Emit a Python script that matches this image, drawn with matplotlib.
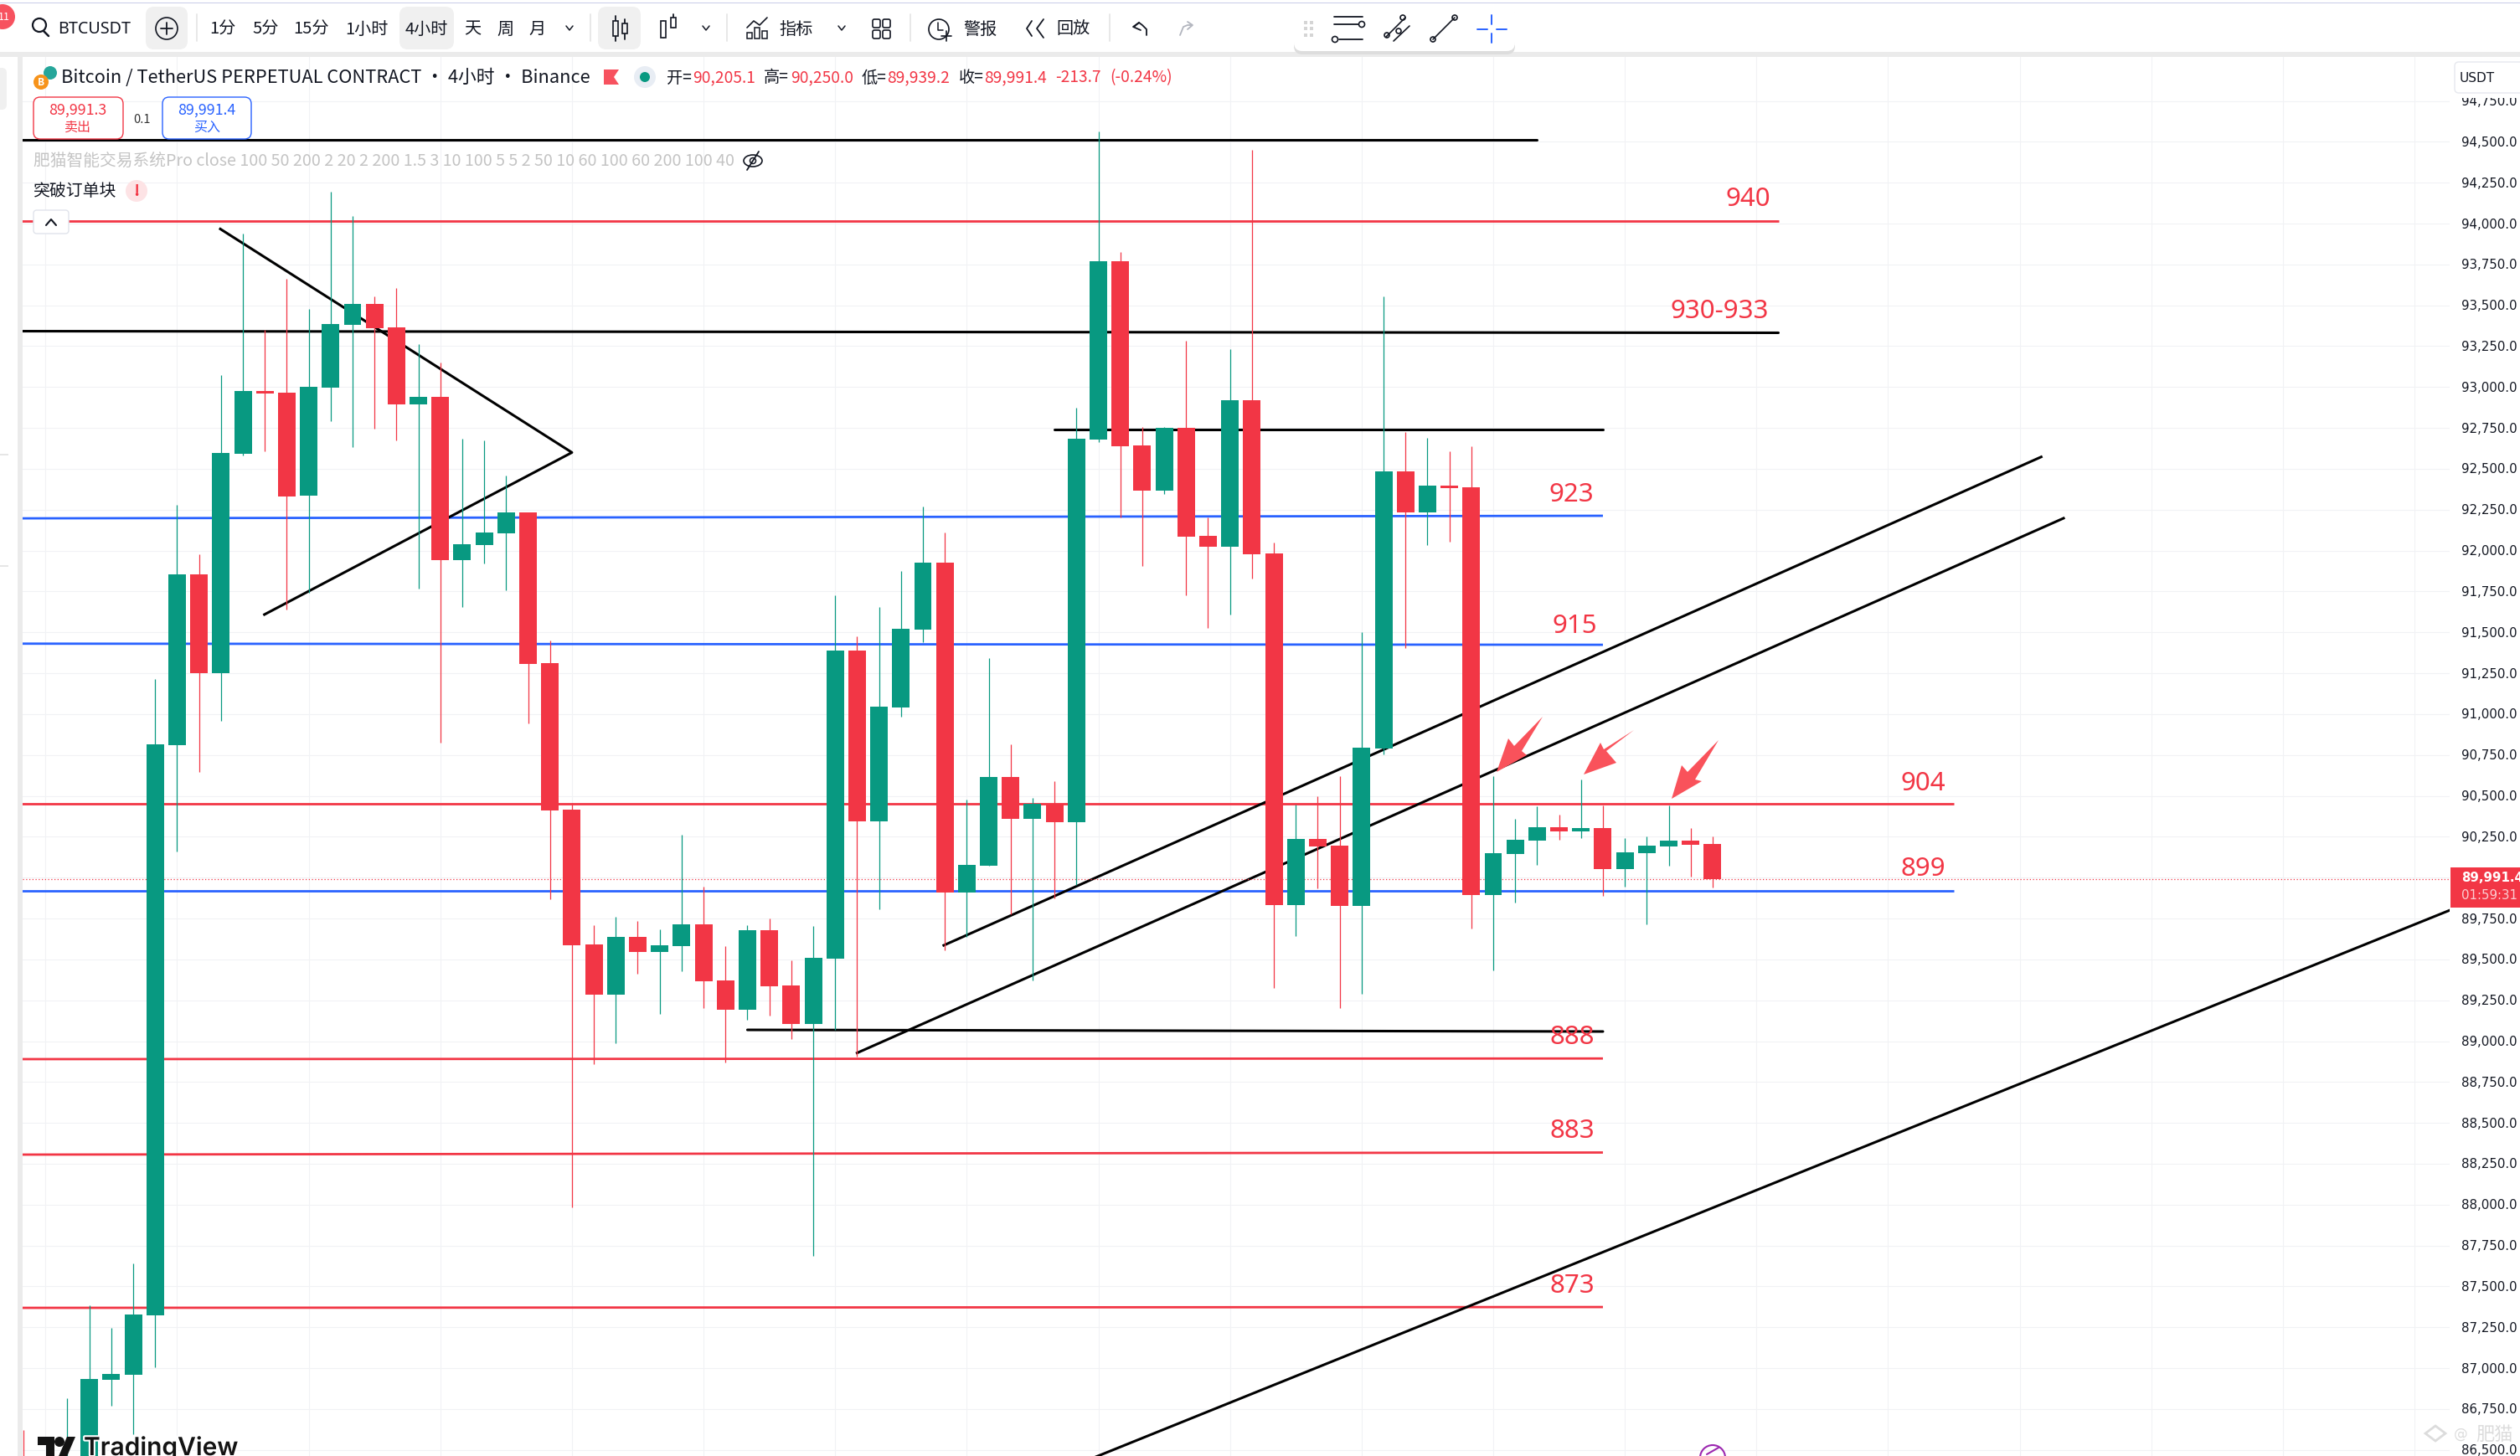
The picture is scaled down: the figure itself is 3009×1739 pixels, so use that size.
import matplotlib
matplotlib.use("Agg")
import matplotlib.pyplot as plt
import matplotlib.patheffects as pe
from matplotlib.patches import Circle, Ellipse, FancyBboxPatch, Polygon, Rectangle

plt.rcParams["font.family"] = ["Noto Sans CJK SC", "DejaVu Sans"]

W, H = 3009, 1740
GREEN = "#089981"
RED = "#f23645"
BLUE = "#2962ff"

# ohlc, bar by bar
opens = [86420, 86350, 86380, 86440, 86929, 86960, 87323, 90810, 91855, 91250,
         92592, 92976, 92966, 92336, 92996, 93380, 93508, 93365, 92894, 92940,
         91942, 92034, 92105, 92233, 91312, 90416, 89592, 89284, 89638, 89545,
         89581, 89714, 89371, 89192, 89679, 89341, 89105, 89504, 91388, 90344,
         91040, 91517, 91926, 89909, 90073, 90616, 90360, 90452, 90339, 92679,
         93769, 92643, 92367, 92751, 92090, 92024, 92920, 91983, 89832, 90237,
         90196, 89827, 90790, 92484, 92233, 92397, 92387, 89894, 90145, 90226,
         90308, 90283, 90303, 90052, 90150, 90191, 90226, 90205.1]
highs = [86622, 86450, 86816, 87385, 87247, 87641, 91215, 92280, 91977, 93073,
         93938, 93350, 93662, 93478, 94194, 94046, 93554, 93606, 93263, 93150,
         92684, 92674, 92459, 92233, 91450, 90457, 89709, 89760, 89735, 89684,
         90262, 89945, 89581, 89709, 89750, 89494, 89704, 91727, 91476, 91655,
         91875, 92269, 92111, 90477, 91343, 90815, 90488, 90590, 92873, 94563,
         93826, 92756, 92756, 93283, 92203, 93232, 94450, 92049, 90447, 90498,
         90621, 91501, 93554, 92725, 92689, 92607, 92638, 90621, 90360, 90436,
         90385, 90600, 90441, 90242, 90252, 90441, 90303, 90250.0]
lows = [86300, 86300, 86320, 86400, 86770, 86596, 87006, 90160, 90646, 90959,
        92582, 92607, 91640, 91742, 92792, 92633, 92745, 92674, 91768, 90825,
        91655, 91921, 91757, 90943, 89868, 87984, 88859, 88987, 89412, 89167,
        89428, 89202, 88870, 89131, 89156, 89013, 87687, 89069, 88905, 89807,
        90984, 91440, 89556, 89638, 90073, 89776, 89371, 89873, 89955, 92664,
        92203, 91906, 92346, 91727, 91527, 91609, 91829, 89325, 89643, 89935,
        89202, 89289, 90754, 91404, 92034, 92054, 89689, 89433, 89847, 90078,
        90232, 90242, 89888, 89945, 89714, 90073, 90006, 89939.2]
closes = [86380, 86420, 86440, 86934, 86965, 87328, 90815, 91855, 91250, 92597,
          92976, 92960, 92331, 93001, 93385, 93508, 93360, 92894, 92940, 91942,
          92039, 92111, 92233, 91307, 90411, 89586, 89284, 89638, 89545, 89586,
          89714, 89366, 89192, 89679, 89336, 89105, 89510, 91388, 90344, 91046,
          91522, 91926, 89909, 90078, 90616, 90360, 90452, 90339, 92684, 93769,
          92638, 92367, 92751, 92085, 92024, 92920, 91977, 89832, 90237, 90191,
          89827, 90795, 92484, 92233, 92397, 92382, 89894, 90150, 90232, 90308,
          90283, 90303, 90052, 90155, 90196, 90226, 90201, 89991.4]

price_ticks = list(range(86500, 95000, 250))
# the 90,000 label sits under the live price tag in the screenshot
hidden_ticks = [90000]

# drawn levels: start bar, end bar, price at start, price at end
red_levels = [(-1, 80, 94017, 94017), (-1, 88, 90452, 90452), (-1, 72, 88890, 88894),
              (-1, 72, 88306, 88319), (-1, 72, 87369, 87374)]
blue_levels = [(-1, 72, 92197, 92213), (-1, 72, 91431, 91424), (-1, 88, 89919, 89919)]
black_levels = [(-1, 69, 94510, 94510), (-1, 80, 93342, 93332), (47, 72, 92743, 92743),
                (33, 72, 89069, 89059)]
# triangle and trend channel
triangle_bars = [8.97, 25.0, 10.98]
triangle_prices = [93967, 92600, 91609]
trend_lines = [(41.95, 91.98, 89586, 92573), (38.0, 93.0, 88928, 92198), (48.0, 111.0, 86410, 89822)]

level_labels = ["940", "930-933", "923", "915", "904", "899", "888", "883", "873"]
label_bars = [78.6, 77.3, 70.55, 70.7, 86.6, 86.6, 70.6, 70.6, 70.6]
label_prices = [94152, 93466, 92344, 91540, 90578, 90056, 89027, 88453, 87508]

fig = plt.figure(figsize=(W / 100, H / 100), dpi=100, facecolor="white")

ax = fig.add_axes([27 / W, 0, (2925 - 27) / W, (H - 69) / H])
ax.set_xlim(-0.042, 110.6)
ax.set_ylim(86463, 95019)
for s in ax.spines.values():
    s.set_visible(False)
ax.set_xticks(range(1, 111, 6))
ax.set_xticklabels([])
ax.set_yticks(price_ticks)
ax.set_yticklabels(["" if p in hidden_ticks else f"{p:,.1f}" for p in price_ticks],
                   family="DejaVu Sans", fontsize=10.8, color="#131722", va="center")
ax.yaxis.tick_right()
ax.tick_params(length=0, pad=10)
ax.grid(True, color="#f1f2f5", lw=0.8, zorder=0)
ax.set_axisbelow(True)

for x0, x1, p0, p1 in red_levels:
    ax.plot([x0, x1], [p0, p1], color=RED, lw=2.0, solid_capstyle="butt", zorder=1)
for x0, x1, p0, p1 in blue_levels:
    ax.plot([x0, x1], [p0, p1], color=BLUE, lw=2.0, solid_capstyle="butt", zorder=1)
for x0, x1, p0, p1 in black_levels:
    ax.plot([x0, x1], [p0, p1], color="black", lw=2.2, solid_capstyle="round", zorder=1)
ax.plot(triangle_bars, triangle_prices, color="black", lw=2.2, zorder=1)
for x0, x1, p0, p1 in trend_lines:
    ax.plot([x0, x1], [p0, p1], color="black", lw=2.2, zorder=1)
ax.axhline(closes[-1], color=RED, lw=0.9, ls=(0, (1, 2)), zorder=1)

for i in range(len(opens)):
    c = GREEN if closes[i] >= opens[i] else RED
    ax.vlines(i, lows[i], highs[i], color=c, lw=0.9, zorder=2)
    ax.bar(i, abs(closes[i] - opens[i]), bottom=min(opens[i], closes[i]), width=0.8, color=c, lw=0, zorder=3)

for t, x, y in zip(level_labels, label_bars, label_prices):
    ax.text(x, y, t, color=RED, fontsize=22.5, family="Noto Sans", ha="center", va="center", zorder=5)

# everything around the chart, in screen pixels
ui = fig.add_axes([0, 0, 1, 1], zorder=5)
ui.set_xlim(0, W)
ui.set_ylim(H, 0)
ui.axis("off")


def txt(x, y, s, size=12.5, color="#131722", ha="left", va="center", **kw):
    return ui.text(x, y, s, fontsize=size, color=color, ha=ha, va=va, **kw)


def line(xs, ys, color="#131722", lw=1.3):
    ui.plot(xs, ys, color=color, lw=lw, solid_capstyle="round")


def rbox(x, y, w, h, r=8, fc="white", ec="none", lw=1.0):
    ui.add_patch(FancyBboxPatch((x, y), w, h, boxstyle=f"round,pad=0,rounding_size={r}", fc=fc, ec=ec, lw=lw))


def circ(x, y, r, fc="none", ec="#131722", lw=1.2):
    ui.add_patch(Circle((x, y), r, fc=fc, ec=ec, lw=lw))


# frame
ui.add_patch(Rectangle((0, 3.5), W, 1.5, fc="#c8cbe8", ec="none"))
ui.add_patch(Rectangle((0, 63), W, 6, fc="#ebebeb", ec="none"))
ui.add_patch(Rectangle((21, 69), 6, H - 69, fc="#ebebeb", ec="none"))
rbox(-10, 82, 18, 50, r=6, fc="#f0f0f0")
ui.add_patch(Rectangle((0, 543), 10, 2, fc="#e6e6e6", ec="none"))
ui.add_patch(Rectangle((0, 676), 10, 2, fc="#e6e6e6", ec="none"))

# top toolbar
circ(3, 21, 15, fc="#f7525f", ec="none")
txt(5, 21, "11", size=9, color="white", ha="center")
circ(47, 31, 8, lw=1.6)
line([52, 58], [38, 44], lw=1.8)
txt(69, 35, "BTCUSDT", size=14.2, weight="bold", family="Noto Sans")
rbox(174, 9, 50, 51, r=10, fc="#f0f0f0")
circ(199, 35, 13, lw=1.2)
line([192, 206], [35, 35])
line([199, 199], [28, 42])
line([235, 235], [18, 50], color="#e6e6e6")
for x, t in zip([266, 317, 372, 438, 509, 564, 603, 642],
                ["1分", "5分", "15分", "1小时", "4小时", "天", "周", "月"]):
    if t == "4小时":
        rbox(477, 9, 65, 51, r=10, fc="#f0f0f0")
    txt(x, 35, t, size=14.5, ha="center")
line([676, 680, 684], [32, 37, 32], lw=1.1)
line([705, 705], [18, 50], color="#e6e6e6")
rbox(714, 9, 51, 51, r=10, fc="#f0f0f0")
for x, y0, y1, b0, b1 in [(735, 20, 50, 26, 44), (746, 24, 48, 29, 41)]:
    line([x, x], [y0, y1])
    ui.add_patch(Rectangle((x - 3, b0), 6, b1 - b0, fc="#f0f0f0", ec="#131722", lw=1.2, zorder=3))
for x, y0, y1, b0, b1 in [(792, 26, 46, 26, 46), (804, 18, 34, 22, 34)]:
    line([x, x], [y0, y1])
    ui.add_patch(Rectangle((x - 3, b0), 6, b1 - b0, fc="white", ec="#131722", lw=1.2, zorder=3))
line([839, 843, 847], [32, 37, 32], lw=1.1)
line([868, 868], [18, 50], color="#e6e6e6")
line([892, 900, 907, 916], [34, 26, 31, 22], lw=1.2)
for x, y0 in [(895, 40), (904, 34), (913, 38)]:
    ui.add_patch(Rectangle((x - 3, y0), 6, 47 - y0, fc="none", ec="#131722", lw=1.1))
txt(951, 35, "指标", size=14.5, ha="center")
line([1001, 1005, 1009], [32, 37, 32], lw=1.1)
for x in [1046, 1058]:
    for y in [29, 42]:
        rbox(x - 4, y - 5, 9, 10, r=2, ec="#131722", lw=1.2)
line([1087, 1087], [18, 50], color="#e6e6e6")
circ(1121, 36, 12, lw=1.2)
line([1120, 1120, 1126], [28, 37, 37], lw=1.1)
line([1130, 1130], [38, 50], lw=1.2)
line([1124, 1136], [44, 44], lw=1.2)
txt(1170, 35, "警报", size=14.5, ha="center")
line([1232, 1226, 1232], [26, 35, 44], lw=1.3)
line([1246, 1238, 1246], [24, 35, 46], lw=1.3)
txt(1282, 35, "回放", size=14.5, ha="center")
line([1325, 1325], [18, 50], color="#e6e6e6")
line([1354, 1360, 1364, 1369, 1369], [33, 28, 31, 36, 43], lw=1.3)
line([1360, 1353, 1362], [28, 33, 37], lw=1.3)
line([1409, 1413, 1418, 1422], [43, 33, 31, 31], color="#b2b5be", lw=1.3)
line([1418, 1424, 1418], [27, 31, 36], color="#b2b5be", lw=1.3)

# floating drawing panel
rbox(1545, 10, 264, 56, r=10, fc="#dddddd")
rbox(1545, 7, 264, 55, r=10, fc="white")
for x in [1559, 1566]:
    for y in [28, 35, 43]:
        ui.add_patch(Rectangle((x - 2, y - 2), 4, 4, fc="#d5d5d5", ec="none"))
line([1593, 1627], [21, 21], lw=1.3)
line([1593, 1622], [30, 30], lw=1.3)
line([1599, 1627], [48, 48], lw=1.3)
circ(1626, 30, 3.5, fc="white")
circ(1594, 48, 3.5, fc="white")
line([1655, 1678], [45, 22], lw=1.2)
line([1664, 1683], [50, 32], lw=1.2)
circ(1656, 43, 3, fc="white")
circ(1675, 22, 3, fc="white")
circ(1670, 38, 3, fc="white")
line([1711, 1737], [48, 22], lw=1.2)
circ(1711, 48, 3, fc="white")
circ(1737, 22, 3, fc="white")
line([1764, 1776], [36, 36], color=BLUE, lw=1.4)
line([1787, 1799], [36, 36], color=BLUE, lw=1.4)
line([1781, 1781], [19, 30], color=BLUE, lw=1.4)
line([1781, 1781], [41, 52], color=BLUE, lw=1.4)

# legend row
circ(60, 88, 8, fc="#26a69a", ec="none")
circ(49, 99, 9, fc="#f7931a", ec="none")
txt(49, 99, "B", size=8.5, color="white", ha="center", weight="bold")
txt(73, 93, "Bitcoin / TetherUS PERPETUAL CONTRACT · 4小时 · Binance", size=15.7)
ui.add_patch(Polygon([(721, 84), (739, 84), (733, 93), (739, 102), (721, 102)], fc="#f7525f", ec="none"))
ui.add_patch(Circle((770, 93), 13, fc="#e8edf4", ec="none"))
ui.add_patch(Circle((770, 93), 6, fc=GREEN, ec="none"))
for x, t, c in [(796, "开=", "#131722"), (827, "90,205.1", RED), (912, "高=", "#131722"),
                (944, "90,250.0", RED), (1029, "低=", "#131722"), (1059, "89,939.2", RED),
                (1145, "收=", "#131722"), (1175, "89,991.4", RED), (1260, "-213.7", RED),
                (1325, "(-0.24%)", RED)]:
    txt(x, 93, t, size=13.8, color=c)

# sell / buy boxes
rbox(40, 117, 107, 50, r=8, ec=RED, lw=1.0)
txt(93, 132, "89,991.3", size=12.8, color=RED, ha="center", weight="medium")
txt(93, 152, "卖出", size=11.5, color=RED, ha="center")
txt(170, 143, "0.1", size=10.5, color="#333333", ha="center")
rbox(194, 117, 106, 50, r=8, ec=BLUE, lw=1.0)
txt(247, 132, "89,991.4", size=12.8, color=BLUE, ha="center", weight="medium")
txt(247, 152, "买入", size=11.5, color=BLUE, ha="center")

txt(40, 193, "肥猫智能交易系统Pro close 100 50 200 2 20 2 200 1.5 3 10 100 5 5 2 50 10 60 100 60 200 100 40",
    size=14.2, color="#c4c4c4")
ui.add_patch(Ellipse((899, 193), 22, 14, fc="none", ec="#131722", lw=1.2))
circ(899, 193, 3.5, lw=1.1)
line([892, 906], [204, 182], lw=1.3)
txt(40, 229, "突破订单块", size=14.3)
ui.add_patch(Circle((163, 229), 13, fc="#fde3e5", ec="none"))
txt(163, 229, "!", size=14, color=RED, ha="center", weight="bold")
rbox(40, 252, 42, 28, r=4, ec="#e0e3eb", lw=1.0)
line([55, 61, 67], [270, 263, 270], lw=1.5)

# arrows on top of the wicks
arrow_shapes = [
    [(1842, 857), (1817, 898), (1823, 903), (1787, 923), (1801, 883), (1808, 892)],
    [(1951, 873), (1918, 898), (1930, 912), (1891, 926), (1911, 888), (1915, 896)],
    [(2052, 885), (2024, 932), (2032, 934), (1996, 955), (2008, 915), (2015, 923)],
]
for shape in arrow_shapes:
    ui.add_patch(Polygon(shape, fc="#f9525b", ec="none"))

# price scale extras
ui.add_patch(Rectangle((2926, 69), 90, 49, fc="white", ec="none"))
rbox(2931, 75, 90, 37, r=5, ec="#e6e8ee", lw=1.0)
txt(2937, 94, "USDT", size=11, family="DejaVu Sans")
ui.add_patch(Rectangle((2926, 1037), 90, 47.5, fc=RED, ec="none"))
txt(2939, 1049, "89,991.4", size=10.8, color="white", weight="bold", family="DejaVu Sans")
txt(2939, 1070, "01:59:31", size=10.8, color="#fbcdd2", family="DejaVu Sans")

# bottom watermarks
ui.add_patch(Polygon([(45, 1717), (65, 1717), (65, 1745), (55, 1745), (55, 1727), (45, 1727)], fc="#131313", ec="none"))
ui.add_patch(Circle((71, 1723), 6, fc="#131313", ec="none"))
ui.add_patch(Polygon([(80, 1717), (90, 1717), (78, 1745), (68, 1745)], fc="#131313", ec="none"))
t = txt(100, 1716, "TradingView", size=21.5, color="#131313", va="top", weight="semibold", family="Inter")
t.set_path_effects([pe.withStroke(linewidth=3, foreground="white")])
circ(2045, 1742, 15, ec="#9c27b0", lw=1.5)
line([2038, 2052], [1738, 1730], color="#9c27b0", lw=1.5)
ui.add_patch(Polygon([(2896, 1713), (2908, 1704), (2920, 1713), (2908, 1722)], fc="none", ec="#dcdcdc", lw=2))
txt(2938, 1713, "@", size=12, color="#dcdcdc", ha="center", family="DejaVu Sans")
txt(2978, 1713, "肥猫", size=16, color="#dcdcdc", ha="center")

fig.savefig("out.png", dpi=100, facecolor="white")
